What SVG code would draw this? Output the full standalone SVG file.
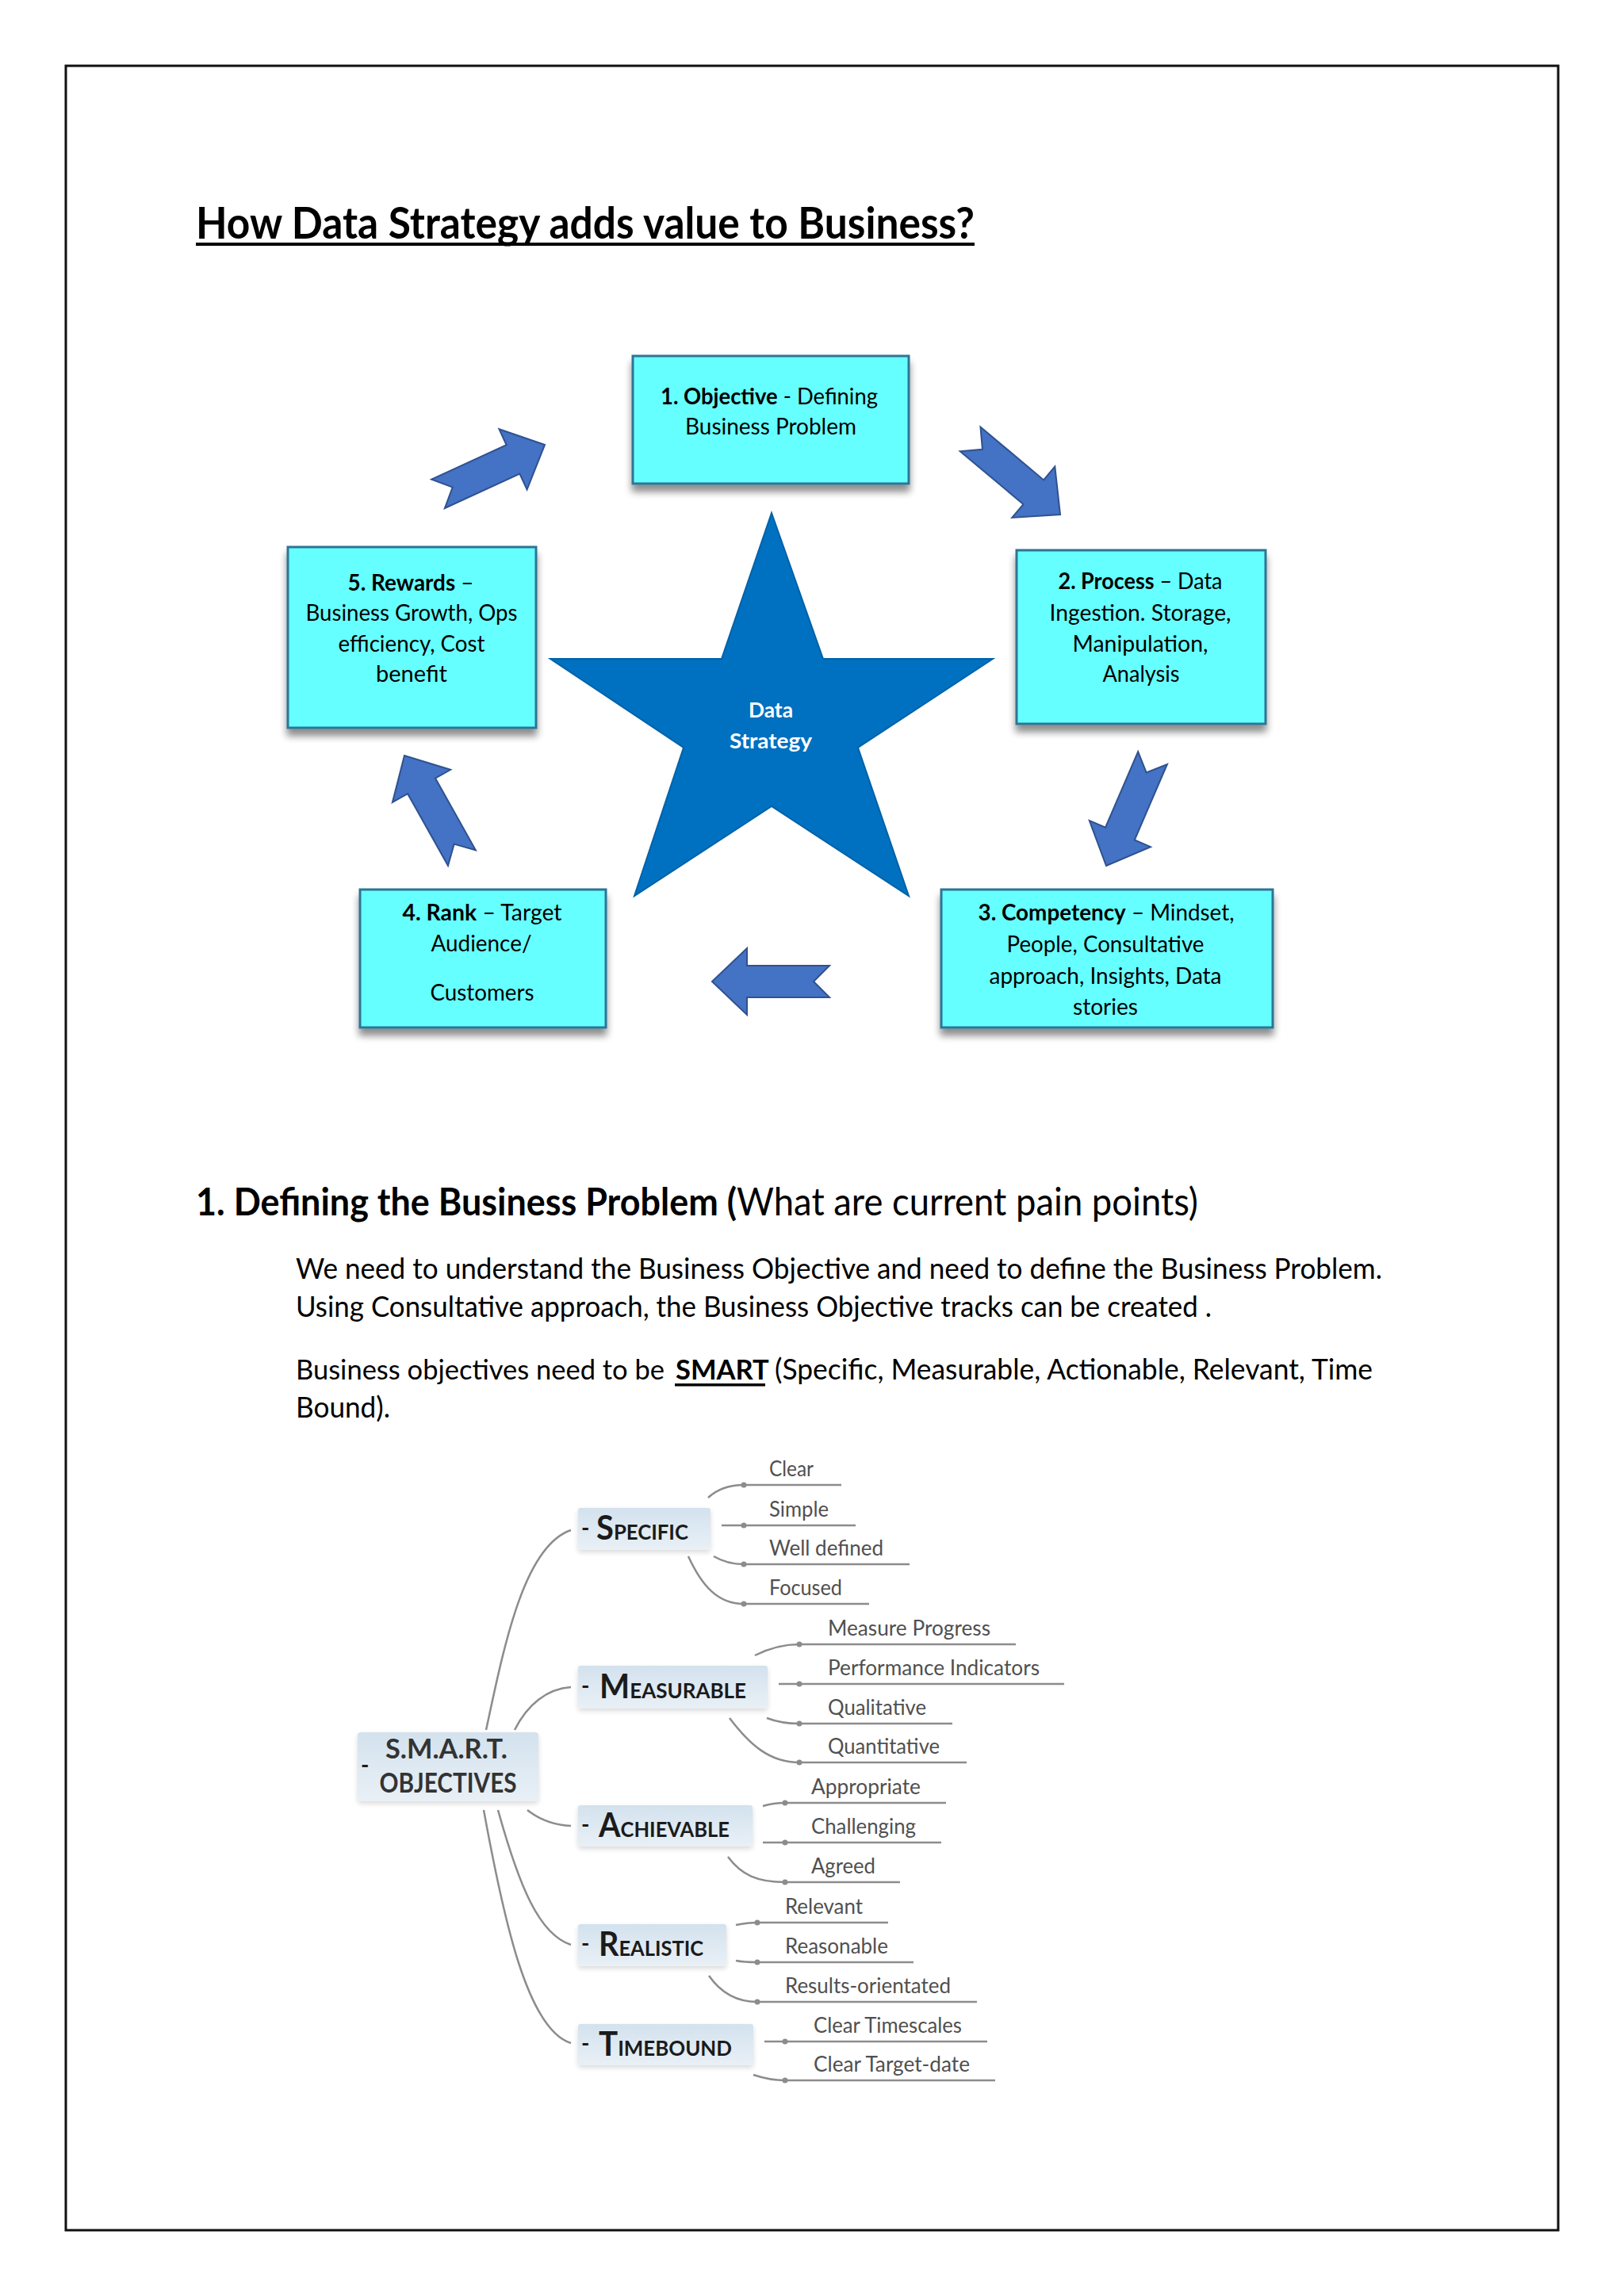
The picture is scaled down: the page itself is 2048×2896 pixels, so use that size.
<svg xmlns="http://www.w3.org/2000/svg" xmlns:xlink="http://www.w3.org/1999/xlink" width="2048" height="2896" viewBox="0 0 2048 2896">
<style>
.f{font-family:Lato,"Liberation Sans",sans-serif}
.ttl{font-size:55px;font-weight:bold;fill:#000}
.h2{font-size:48px;fill:#000}
.p{font-size:37.5px;fill:#000}
.bx{fill:#66FFFF;stroke:#2E7593;stroke-width:3}
.bt{font-size:28px;fill:#000;text-anchor:middle}
.arr{fill:#4472C4;stroke:#2F528F;stroke-width:2;stroke-linejoin:miter}
.mm{fill:url(#mmg);filter:url(#msh)}
.l1{font-size:27px;font-weight:bold;fill:#1b1b1b}
.l1b{font-size:42px}
.dash{font-size:28px;font-weight:bold;fill:#1b1b1b}
.lf{font-size:27px;fill:#505050}
.cn{fill:none;stroke:#8c8c8c;stroke-width:2.5}
.dot{fill:#8c8c8c}
</style>
<defs>
<filter id="sh" x="-10%" y="-10%" width="120%" height="130%">
<feGaussianBlur in="SourceAlpha" stdDeviation="5"/>
<feOffset dx="0" dy="9" result="b"/>
<feComponentTransfer><feFuncA type="linear" slope="0.45"/></feComponentTransfer>
<feMerge><feMergeNode/><feMergeNode in="SourceGraphic"/></feMerge>
</filter>
<filter id="msh" x="-10%" y="-10%" width="120%" height="130%">
<feGaussianBlur in="SourceAlpha" stdDeviation="3"/>
<feOffset dx="0" dy="3" result="b"/>
<feComponentTransfer><feFuncA type="linear" slope="0.15"/></feComponentTransfer>
<feMerge><feMergeNode/><feMergeNode in="SourceGraphic"/></feMerge>
</filter>
<linearGradient id="mmg" x1="0" y1="0" x2="0" y2="1">
<stop offset="0" stop-color="#D3E2EE"/>
<stop offset="1" stop-color="#E9F0F6"/>
</linearGradient>
<path id="arrow" class="arr" d="M0,0 L-44,-42 L-44,-20 L-148,-20 L-128,0 L-148,20 L-44,20 L-44,42 Z"/>
</defs>
<rect width="2048" height="2896" fill="#fff"/>
<rect x="83" y="83" width="1882" height="2730" fill="none" stroke="#111" stroke-width="3"/>

<g id="title">
<text class="f ttl" x="247" y="301" textLength="982" lengthAdjust="spacingAndGlyphs">How Data Strategy adds value to Business?</text>
<rect x="247" y="306" width="982" height="4" fill="#000"/>
</g>

<g id="star">
<polygon points="973,647 1038,831 1252,831 1082,943 1146,1130 973,1017 800,1130 862,943 694,831 910,831" fill="#0070C0" stroke="#0062A8" stroke-width="2"/>
<text class="f" x="972" y="905" font-size="27" font-weight="bold" fill="#fff" text-anchor="middle" textLength="56" lengthAdjust="spacingAndGlyphs">Data</text>
<text class="f" x="972" y="944" font-size="27" font-weight="bold" fill="#fff" text-anchor="middle" textLength="104" lengthAdjust="spacingAndGlyphs">Strategy</text>
</g>

<g id="box1">
<rect class="bx" x="798" y="449" width="348" height="161" filter="url(#sh)"/>
<text class="f bt" x="970" y="510" textLength="274" lengthAdjust="spacingAndGlyphs"><tspan font-weight="bold">1. Objective</tspan> - Defining</text>
<text class="f bt" x="972" y="548" textLength="216" lengthAdjust="spacingAndGlyphs">Business Problem</text>
</g>

<g id="box2">
<rect class="bx" x="1282" y="694" width="314" height="219" filter="url(#sh)"/>
<text class="f bt" x="1438" y="743" textLength="207" lengthAdjust="spacingAndGlyphs"><tspan font-weight="bold">2. Process</tspan> – Data</text>
<text class="f bt" x="1438" y="783" textLength="229" lengthAdjust="spacingAndGlyphs">Ingestion. Storage,</text>
<text class="f bt" x="1438" y="822" textLength="171" lengthAdjust="spacingAndGlyphs">Manipulation,</text>
<text class="f bt" x="1439" y="860" textLength="97" lengthAdjust="spacingAndGlyphs">Analysis</text>
</g>

<g id="box3">
<rect class="bx" x="1187" y="1122" width="418" height="174" filter="url(#sh)"/>
<text class="f bt" x="1395" y="1161" textLength="323" lengthAdjust="spacingAndGlyphs"><tspan font-weight="bold">3. Competency</tspan> – Mindset,</text>
<text class="f bt" x="1394" y="1201" textLength="249" lengthAdjust="spacingAndGlyphs">People, Consultative</text>
<text class="f bt" x="1394" y="1241" textLength="293" lengthAdjust="spacingAndGlyphs">approach, Insights, Data</text>
<text class="f bt" x="1394" y="1280" textLength="82" lengthAdjust="spacingAndGlyphs">stories</text>
</g>

<g id="box4">
<rect class="bx" x="454" y="1122" width="310" height="174" filter="url(#sh)"/>
<text class="f bt" x="608" y="1161" textLength="201" lengthAdjust="spacingAndGlyphs"><tspan font-weight="bold">4. Rank</tspan> – Target</text>
<text class="f bt" x="607" y="1200" textLength="127" lengthAdjust="spacingAndGlyphs">Audience/</text>
<text class="f bt" x="608" y="1262" textLength="131" lengthAdjust="spacingAndGlyphs">Customers</text>
</g>

<g id="box5">
<rect class="bx" x="363" y="690" width="313" height="228" filter="url(#sh)"/>
<text class="f bt" x="518" y="745" textLength="159" lengthAdjust="spacingAndGlyphs"><tspan font-weight="bold">5. Rewards</tspan> –</text>
<text class="f bt" x="519" y="783" textLength="267" lengthAdjust="spacingAndGlyphs">Business Growth, Ops</text>
<text class="f bt" x="519" y="822" textLength="185" lengthAdjust="spacingAndGlyphs">efficiency, Cost</text>
<text class="f bt" x="519" y="860" textLength="90" lengthAdjust="spacingAndGlyphs">benefit</text>
</g>

<g id="cycle-arrows">
<use xlink:href="#arrow" href="#arrow" transform="translate(687,561) rotate(-24.7)"/>
<use xlink:href="#arrow" href="#arrow" transform="translate(1337,649) rotate(40)"/>
<use xlink:href="#arrow" href="#arrow" transform="translate(1395,1092) rotate(113.3)"/>
<use xlink:href="#arrow" href="#arrow" transform="translate(898,1238) rotate(180)"/>
<use xlink:href="#arrow" href="#arrow" transform="translate(510,953) rotate(-119.3)"/>
</g>

<g id="section1">
<text class="f h2" x="247" y="1533"><tspan font-weight="bold" textLength="682" lengthAdjust="spacingAndGlyphs">1. Defining the Business Problem (</tspan><tspan x="929" textLength="582" lengthAdjust="spacingAndGlyphs">What are current pain points)</tspan></text>
<text class="f p" x="373" y="1613" textLength="1370" lengthAdjust="spacingAndGlyphs">We need to understand the Business Objective and need to define the Business Problem.</text>
<text class="f p" x="373" y="1661" textLength="1155" lengthAdjust="spacingAndGlyphs">Using Consultative approach, the Business Objective tracks can be created .</text>
<text class="f" x="373" y="1740" font-size="34.5" fill="#000">Business objectives need to be</text>
<text class="f" x="852" y="1740" font-size="34.5" font-weight="bold" fill="#000">SMART</text>
<rect x="851" y="1745" width="114" height="3.5" fill="#000"/>
<text class="f p" x="977" y="1740" textLength="754" lengthAdjust="spacingAndGlyphs">(Specific, Measurable, Actionable, Relevant, Time</text>
<text class="f p" x="373" y="1788" textLength="119" lengthAdjust="spacingAndGlyphs">Bound).</text>
</g>

<g id="mm-connectors">
<path class="cn" d="M613,2182 C635,2080 660,1950 720,1930"/>
<path class="cn" d="M649,2182 C665,2150 690,2130 720,2128"/>
<path class="cn" d="M665,2283 C680,2295 700,2302 720,2303"/>
<path class="cn" d="M628,2283 C655,2380 680,2440 720,2453"/>
<path class="cn" d="M610,2283 C635,2420 665,2560 720,2577"/>
<path class="cn" d="M893,1889 C905,1878 920,1873 938,1873 L1061,1873"/>
<path class="cn" d="M910,1924 L1079,1924"/>
<path class="cn" d="M900,1963 C912,1970 925,1973 938,1973 L1147,1973"/>
<path class="cn" d="M868,1963 C885,2000 905,2023 938,2023 L1096,2023"/>
<path class="cn" d="M952,2088 C968,2080 985,2074 1008,2074 L1281,2074"/>
<path class="cn" d="M982,2124 L1342,2124"/>
<path class="cn" d="M967,2167 C980,2172 992,2174 1008,2174 L1201,2174"/>
<path class="cn" d="M920,2167 C945,2200 970,2223 1008,2223 L1219,2223"/>
<path class="cn" d="M962,2278 C972,2275 980,2274 990,2274 L1193,2274"/>
<path class="cn" d="M962,2324 L1187,2324"/>
<path class="cn" d="M918,2342 C935,2365 955,2374 990,2374 L1135,2374"/>
<path class="cn" d="M928,2428 C938,2426 945,2425 955,2425 L1120,2425"/>
<path class="cn" d="M928,2473 C938,2475 945,2475 955,2475 L1152,2475"/>
<path class="cn" d="M894,2492 C910,2515 930,2525 955,2525 L1232,2525"/>
<path class="cn" d="M964,2575 L1245,2575"/>
<path class="cn" d="M950,2617 C965,2622 975,2624 990,2624 L1255,2624"/>
<g class="dot">
<circle cx="938" cy="1873" r="3.5"/><circle cx="938" cy="1924" r="3.5"/><circle cx="938" cy="1973" r="3.5"/><circle cx="938" cy="2023" r="3.5"/>
<circle cx="1008" cy="2074" r="3.5"/><circle cx="1008" cy="2124" r="3.5"/><circle cx="1008" cy="2174" r="3.5"/><circle cx="1008" cy="2223" r="3.5"/>
<circle cx="990" cy="2274" r="3.5"/><circle cx="990" cy="2324" r="3.5"/><circle cx="990" cy="2374" r="3.5"/>
<circle cx="955" cy="2425" r="3.5"/><circle cx="955" cy="2475" r="3.5"/><circle cx="955" cy="2525" r="3.5"/>
<circle cx="990" cy="2575" r="3.5"/><circle cx="990" cy="2624" r="3.5"/>
</g>
</g>

<g id="mm-root">
<rect class="mm" x="451" y="2185" width="228" height="87" rx="4"/>
<text class="f dash" x="455" y="2236">-</text>
<text class="f" x="563" y="2218" font-size="34" font-weight="bold" fill="#333" text-anchor="middle" textLength="154" lengthAdjust="spacingAndGlyphs">S.M.A.R.T.</text>
<text class="f" x="565" y="2261" font-size="34" font-weight="bold" fill="#333" text-anchor="middle" textLength="173" lengthAdjust="spacingAndGlyphs">OBJECTIVES</text>
</g>

<g id="mm-specific">
<rect class="mm" x="729" y="1902" width="167" height="53" rx="3"/>
<text class="f dash" x="733" y="1937">-</text>
<text class="f l1" x="752" y="1942" textLength="116" lengthAdjust="spacingAndGlyphs"><tspan class="l1b">S</tspan>PECIFIC</text>
<text class="f lf" x="970" y="1862" textLength="56" lengthAdjust="spacingAndGlyphs">Clear</text>
<text class="f lf" x="970" y="1913" textLength="75" lengthAdjust="spacingAndGlyphs">Simple</text>
<text class="f lf" x="970" y="1962" textLength="144" lengthAdjust="spacingAndGlyphs">Well defined</text>
<text class="f lf" x="970" y="2012" textLength="92" lengthAdjust="spacingAndGlyphs">Focused</text>
</g>

<g id="mm-measurable">
<rect class="mm" x="729" y="2101" width="239" height="54" rx="3"/>
<text class="f dash" x="733" y="2136">-</text>
<text class="f l1" x="756" y="2142" textLength="185" lengthAdjust="spacingAndGlyphs"><tspan class="l1b">M</tspan>EASURABLE</text>
<text class="f lf" x="1044" y="2063" textLength="205" lengthAdjust="spacingAndGlyphs">Measure Progress</text>
<text class="f lf" x="1044" y="2113" textLength="267" lengthAdjust="spacingAndGlyphs">Performance Indicators</text>
<text class="f lf" x="1044" y="2163" textLength="124" lengthAdjust="spacingAndGlyphs">Qualitative</text>
<text class="f lf" x="1044" y="2212" textLength="141" lengthAdjust="spacingAndGlyphs">Quantitative</text>
</g>

<g id="mm-achievable">
<rect class="mm" x="729" y="2277" width="220" height="52" rx="3"/>
<text class="f dash" x="733" y="2311">-</text>
<text class="f l1" x="755" y="2317" textLength="165" lengthAdjust="spacingAndGlyphs"><tspan class="l1b">A</tspan>CHIEVABLE</text>
<text class="f lf" x="1023" y="2263" textLength="138" lengthAdjust="spacingAndGlyphs">Appropriate</text>
<text class="f lf" x="1023" y="2313" textLength="132" lengthAdjust="spacingAndGlyphs">Challenging</text>
<text class="f lf" x="1023" y="2363" textLength="81" lengthAdjust="spacingAndGlyphs">Agreed</text>
</g>

<g id="mm-realistic">
<rect class="mm" x="729" y="2427" width="187" height="53" rx="3"/>
<text class="f dash" x="733" y="2461">-</text>
<text class="f l1" x="755" y="2467" textLength="132" lengthAdjust="spacingAndGlyphs"><tspan class="l1b">R</tspan>EALISTIC</text>
<text class="f lf" x="990" y="2414" textLength="98" lengthAdjust="spacingAndGlyphs">Relevant</text>
<text class="f lf" x="990" y="2464" textLength="130" lengthAdjust="spacingAndGlyphs">Reasonable</text>
<text class="f lf" x="990" y="2514" textLength="209" lengthAdjust="spacingAndGlyphs">Results-orientated</text>
</g>

<g id="mm-timebound">
<rect class="mm" x="729" y="2553" width="221" height="52" rx="3"/>
<text class="f dash" x="733" y="2587">-</text>
<text class="f l1" x="755" y="2593" textLength="168" lengthAdjust="spacingAndGlyphs"><tspan class="l1b">T</tspan>IMEBOUND</text>
<text class="f lf" x="1026" y="2564" textLength="187" lengthAdjust="spacingAndGlyphs">Clear Timescales</text>
<text class="f lf" x="1026" y="2613" textLength="197" lengthAdjust="spacingAndGlyphs">Clear Target-date</text>
</g>
</svg>
